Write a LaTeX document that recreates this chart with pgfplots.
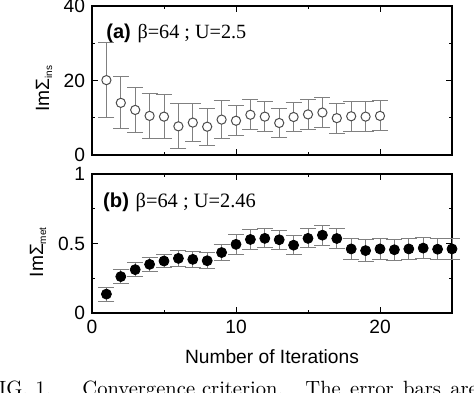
\documentclass[border=0pt]{standalone}
\usepackage{fontspec}
\usepackage{pgfplots}
\usepackage{pgfplotstable}
\pgfplotsset{compat=1.18}
\newfontfamily\hv{Liberation Sans}
\newfontfamily\tms{Liberation Serif}

\pgfplotstableread{
x y e
1 20.1 10
2 14.0 7
3 12.1 6
4 10.5 6
5 10.3 6
6 7.7 6
7 8.7 5
8 7.6 5
9 9.5 5
10 9.2 4
11 10.8 4
12 10.3 4
13 8.6 4
14 10.2 4
15 10.9 4
16 11.4 4
17 9.9 4
18 10.4 4
19 10.3 4
20 10.5 4
}\topdata

\pgfplotstableread{
x y e
1 0.136 0.05
2 0.262 0.05
3 0.312 0.05
4 0.350 0.05
5 0.374 0.05
6 0.393 0.055
7 0.386 0.06
8 0.376 0.058
9 0.435 0.06
10 0.494 0.072
11 0.529 0.07
12 0.537 0.068
13 0.527 0.07
14 0.488 0.07
15 0.537 0.068
16 0.560 0.072
17 0.536 0.072
18 0.461 0.075
19 0.449 0.077
20 0.461 0.075
21 0.455 0.075
22 0.461 0.075
23 0.467 0.075
24 0.459 0.075
25 0.461 0.075
}\botdata

\pgfplotsset{myax/.style={
  scale only axis, width=180pt,
  xmin=0, xmax=25, xtick={0,10,20}, minor x tick num=1,
  minor y tick num=1,
  tick align=inside, major tick length=3pt, minor tick length=1.6pt,
  axis line style={line width=0.6pt},
  every tick/.style={line width=0.5pt, black},
  tick label style={font=\hv\fontsize{9.6}{11}\selectfont},
  /pgf/number format/assume math mode=true,
  label style={font=\hv\fontsize{9.6}{11}\selectfont},
  clip=false,
}}

\begin{document}
\begin{tikzpicture}
\path[use as bounding box, clip] (0,0) rectangle (237pt,196pt);

\begin{axis}[myax, at={(46pt,118.5pt)}, anchor=south west, height=74.5pt,
  ymin=0, ymax=40, ytick={0,20,40}, xticklabels={},
  ylabel={ImΣ\textsubscript{\fontsize{5}{6}\selectfont ins}},
  ylabel style={at={(axis description cs:-0.133,0.45)}, anchor=center}]
\addplot[only marks, mark=*, mark size=2.3pt,
  mark options={fill=white, draw=black!70, line width=0.5pt},
  error bars/.cd, y dir=both, y explicit,
  error bar style={black!50, line width=0.5pt},
  error mark options={rotate=90, mark size=4pt, black!50, line width=0.5pt}]
  table[x=x, y=y, y error=e] {\topdata};
\node[anchor=base west, inner sep=0pt] at (rel axis cs:0.039,0.78)
  {{\hv\bfseries\fontsize{10}{12}\selectfont (a)} {\tms\fontsize{10.1}{12}\selectfont β=64 ; U=2.5}};
\end{axis}

\begin{axis}[myax, at={(46pt,39.5pt)}, anchor=south west, height=69.5pt,
  ymin=0, ymax=1, ytick={0,0.5,1},
  xlabel={Number of Iterations},
  xlabel style={at={(axis description cs:0.5,0)}, anchor=base, yshift=-25pt},
  ylabel={ImΣ\textsubscript{\fontsize{5}{6}\selectfont met}},
  ylabel style={at={(axis description cs:-0.15,0.44)}, anchor=center}]
\addplot[only marks, mark=*, mark size=2.5pt,
  mark options={fill=black, draw=black},
  error bars/.cd, y dir=both, y explicit,
  error bar style={black!50, line width=0.5pt},
  error mark options={rotate=90, mark size=4pt, black!50, line width=0.5pt}]
  table[x=x, y=y, y error=e] {\botdata};
\node[anchor=base west, inner sep=0pt] at (rel axis cs:0.03,0.76)
  {{\hv\bfseries\fontsize{10.1}{12}\selectfont (b)} {\tms\fontsize{10.2}{12}\selectfont β=64 ; U=2.46}};
\end{axis}

\begin{scope}[every node/.style={inner sep=0pt, font=\fontsize{10.3}{12}\selectfont}]
\node[anchor=base east] at (14.3pt,-1.5pt) {FIG.};
\node[anchor=base west] at (17.5pt,-1.5pt) {1.};
\node[anchor=base west] at (41pt,-1.5pt) {Convergence criterion.};
\node[anchor=base west] at (152.5pt,-1.5pt) {The\hspace{0.45em}error\hspace{0.45em}bars\hspace{0.45em}are};
\end{scope}
\end{tikzpicture}
\end{document}
